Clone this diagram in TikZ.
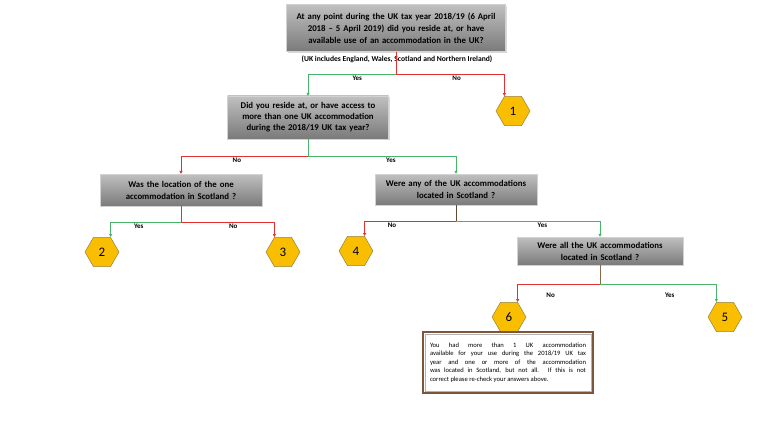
\documentclass[tikz,border=0pt]{standalone}
\usepackage{fontspec}
\setmainfont{Carlito}
\usetikzlibrary{arrows.meta, shapes.geometric, shadows}
\definecolor{yesgreen}{RGB}{70,180,105}
\definecolor{nored}{RGB}{228,48,48}
\definecolor{hexfill}{RGB}{250,190,0}
\definecolor{hexline}{RGB}{150,130,70}
\definecolor{notebrown}{RGB}{125,85,60}
\definecolor{stembrown}{RGB}{140,105,70}
\definecolor{boxtop}{RGB}{192,192,192}
\definecolor{boxbot}{RGB}{122,122,122}

\begin{document}
\begin{tikzpicture}[
  x=1pt, y=-1pt,
  font          = \fontsize{8.8}{12}\selectfont\bfseries,
  %
  % -- node styles --------------------------------------------------
  qbox/.style   = {rectangle, top color=boxtop, bottom color=boxbot,
                   draw=gray!35, line width=0.3pt, align=center,
                   inner sep=2pt,
                   drop shadow={shadow xshift=1.2pt, shadow yshift=-1.2pt,
                                opacity=0.3}},
  hex/.style    = {regular polygon, regular polygon sides=6,
                   minimum size=34pt, inner sep=0pt, fill=hexfill,
                   draw=hexline, line width=0.5pt,
                   font=\fontsize{13}{14}\selectfont},
  notebox/.style= {rectangle, fill=white, draw=notebrown, line width=2.6pt,
                   align=justify, text width=156pt, inner xsep=7pt,
                   minimum height=61pt,
                   font=\fontsize{6.6}{8.5}\selectfont,
                   path picture={\draw[gray!60, line width=0.4pt]
                     ([shift={(1.8pt,1.8pt)}]path picture bounding box.south west)
                     rectangle
                     ([shift={(-1.8pt,-1.8pt)}]path picture bounding box.north east);}},
  lbl/.style    = {font=\fontsize{7}{7}\selectfont\bfseries, inner sep=1pt},
  yesarr/.style = {-{Triangle[length=3pt,width=3pt]}, draw=yesgreen,
                   line width=0.7pt},
  noarr/.style  = {-{Triangle[length=3pt,width=3pt]}, draw=nored,
                   line width=0.7pt},
]
\useasboundingbox (0,0) rectangle (768,433);

%% =================================================================
%% Questions
%% =================================================================
\node[qbox, text width=215pt, minimum height=47pt] (q1) at (396,28)
  {At any point during the UK tax year 2018/19 (6 April\\
   2018 -- 5 April 2019) did you reside at, or have\\
   available use of an accommodation in the UK?};
\node[lbl, font=\fontsize{7.6}{8}\selectfont\bfseries] (uk-note) at (397,59)
  {(UK includes England, Wales, Scotland and Northern Ireland)};

\node[qbox, text width=157pt, minimum height=43pt,
      font=\fontsize{8.8}{11}\selectfont\bfseries] (q2) at (308,117.5)
  {Did you reside at, or have access to\\
   more than one UK accommodation\\
   during the 2018/19 UK tax year?};

\node[qbox, text width=158pt, minimum height=32pt] (q3) at (181,190)
  {Was the location of the one\\accommodation in Scotland ?};

\node[qbox, text width=158pt, minimum height=31pt] (q4) at (456,189.5)
  {Were any of the UK accommodations\\located in Scotland ?};

\node[qbox, text width=162pt, minimum height=28pt] (q5) at (600,251)
  {Were all the UK accommodations\\located in Scotland ?};

%% =================================================================
%% Outcomes
%% =================================================================
\node[hex] (h1) at (513,111) {1};
\node[hex] (h2) at (102,252) {2};
\node[hex] (h3) at (283,252) {3};
\node[hex] (h4) at (356,251) {4};
\node[hex] (h5) at (725,317) {5};
\node[hex] (h6) at (509,317) {6};

\node[notebox] (n6) at (508,362.5)
  {You had more than 1 UK accommodation\linebreak
   available for your use during the 2018/19 UK tax\linebreak
   year and one or more of the accommodation\linebreak
   was located in Scotland, but not all. If this is not\linebreak
   correct please re-check your answers above.};

%% -- split points ------------------------------------------------
\coordinate (s1) at (396,74);
\coordinate (s2) at (308,156);
\coordinate (s3) at (181,222);
\coordinate (s4) at (456,221);
\coordinate (s5) at (600,284);

%% -- arrows --------------------------------------------------------
\draw[nored, line width=0.7pt] (q1.south) -- (s1);
\draw[yesarr] (s1) -| node[lbl, pos=0.22, below=1pt] {Yes} (q2.north);
\draw[noarr]  (s1) -| node[lbl, pos=0.28, below=1pt] {No} (h1.120);

\draw[yesgreen, line width=0.7pt] (q2.south) -- (s2);
\draw[noarr]  (s2) -| node[lbl, pos=0.28, below=1pt] {No} (q3.north);
\draw[yesarr] (s2) -| node[lbl, pos=0.28, below=1pt] {Yes} (q4.north);

\draw[nored, line width=0.7pt] (q3.south) -- (s3);
\draw[yesarr] (s3) -| node[lbl, pos=0.3, below=1pt] {Yes} (h2.60);
\draw[noarr]  (s3) -| node[lbl, pos=0.28, below=1pt] {No} (h3.120);

\draw[stembrown!70!black, line width=0.7pt] (q4.south) -- (s4);
\draw[noarr]  (s4) -| node[lbl, pos=0.35, below=1pt] {No} (h4.60);
\draw[yesarr] (s4) -| node[lbl, pos=0.3, below=1pt] {Yes} (q5.north);

\draw[stembrown, line width=0.7pt] (q5.south) -- (s5);
\draw[noarr]  (s5) -| node[lbl, pos=0.3, below=8pt] {No} (h6.60);
\draw[yesarr] (s5) -| node[lbl, pos=0.3, below=8pt] {Yes} (h5.120);

\end{tikzpicture}
\end{document}
